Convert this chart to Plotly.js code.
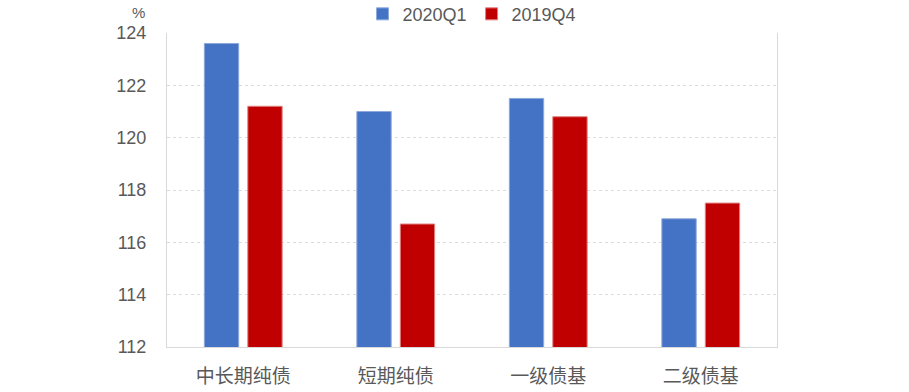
<!DOCTYPE html>
<html>
<head>
<meta charset="utf-8">
<script src="https://cdn.plot.ly/plotly-3.0.1.min.js"></script>
<style>html,body{margin:0;padding:0;background:#fff;}#chart{width:909px;height:392px;}</style>
</head>
<body>
<div id="chart"></div>
<script>
const categories = ['中长期纯债', '短期纯债', '一级债基', '二级债基'];
const series2020Q1 = [123.6, 121.0, 121.5, 116.9];
const series2019Q4 = [121.2, 116.7, 120.8, 117.5];
const seriesNames = ['2020Q1', '2019Q4'];
const yTicks = [112, 114, 116, 118, 120, 122, 124];

const traces = [
  {type: 'bar', name: seriesNames[0], x: categories, y: series2020Q1,
   marker: {color: '#4472C4', line: {color: '#8EA9DB', width: 1}}, hoverinfo: 'x+y'},
  {type: 'bar', name: seriesNames[1], x: categories, y: series2019Q4,
   marker: {color: '#C00000', line: {color: '#E08080', width: 1}}, hoverinfo: 'x+y'}
];

const layout = {
  width: 909, height: 392,
  margin: {l: 167, r: 132, t: 33, b: 45, autoexpand: false},
  paper_bgcolor: '#ffffff', plot_bgcolor: '#ffffff',
  barmode: 'group', bargap: 0.43, bargroupgap: 0.21,
  font: {family: 'Liberation Sans, Arial, sans-serif', color: '#595959'},
  showlegend: true,
  legend: {orientation: 'h', x: 0.5, xanchor: 'center', y: 1.06, yanchor: 'middle',
           font: {size: 18, color: '#595959'}, itemclick: false, traceorder: 'normal'},
  xaxis: {
    type: 'category', showgrid: false, zeroline: false,
    showline: true, linecolor: '#d9d9d9', linewidth: 1,
    ticks: 'outside', ticklen: 12, tickcolor: 'rgba(0,0,0,0)',
    tickfont: {family: 'Noto Sans CJK SC, sans-serif', size: 19, color: '#595959'}
  },
  yaxis: {
    range: [112, 124], tickvals: yTicks, ticktext: yTicks.map(String),
    showgrid: true, gridcolor: '#dcdcdc', griddash: 'dot', gridwidth: 1,
    zeroline: false, showline: true, mirror: true, linecolor: '#d9d9d9', linewidth: 1,
    ticks: 'outside', ticklen: 16, tickcolor: 'rgba(0,0,0,0)',
    tickfont: {size: 18, color: '#595959'}
  },
  annotations: [{text: '%', xref: 'paper', yref: 'paper', x: -0.046, y: 1.065,
                 xanchor: 'center', yanchor: 'middle', showarrow: false,
                 font: {size: 15, color: '#595959'}}]
};

Plotly.newPlot('chart', traces, layout, {displayModeBar: false, staticPlot: true});
</script>
</body>
</html>
